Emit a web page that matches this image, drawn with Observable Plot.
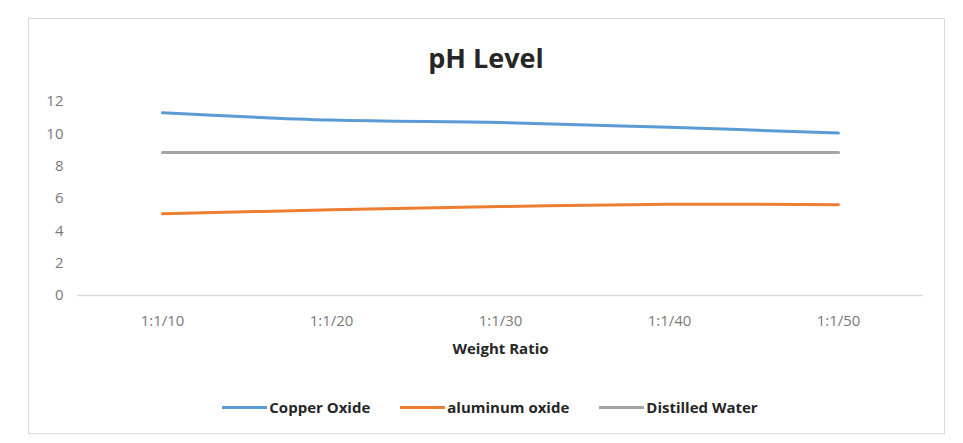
<!DOCTYPE html>
<html>
<head>
<meta charset="utf-8">
<script src="https://cdn.jsdelivr.net/npm/d3@7"></script>
<script src="https://cdn.jsdelivr.net/npm/@observablehq/plot@0.6"></script>
<style>
  html, body { margin: 0; padding: 0; background: #fff; }
  #wrap { position: relative; width: 963px; height: 443px; overflow: hidden; font-family: "Open Sans", sans-serif; }
  #frame { position: absolute; left: 28px; top: 18px; width: 917px; height: 416px; border: 1px solid #d9d9d9; box-sizing: border-box; }
  #title { position: absolute; left: 0; top: 40px; width: 972px; text-align: center; font-weight: bold; font-size: 27px; line-height: 36px; color: #262626; }
  #chart { position: absolute; left: 0; top: 80px; }
  #legend { position: absolute; left: 0; top: 396px; width: 980px; display: flex; justify-content: center; gap: 30px; font-weight: bold; font-size: 15px; line-height: 22px; color: #262626; }
  .item { display: flex; align-items: center; }
  .swatch { width: 45px; height: 3px; margin-right: 2px; }
</style>
</head>
<body>
<div id="wrap">
  <div id="frame"></div>
  <div id="title">pH Level</div>
  <div id="chart"></div>
  <div id="legend"></div>
</div>
<script>
const ratios = ["1:1/10", "1:1/20", "1:1/30", "1:1/40", "1:1/50"];
const copperOxide = [11.3, 10.85, 10.7, 10.4, 10.05];
const aluminumOxide = [5.05, 5.3, 5.5, 5.65, 5.62];
const distilledWater = [8.85, 8.85, 8.85, 8.85, 8.85];
const seriesNames = ["Copper Oxide", "aluminum oxide", "Distilled Water"];
const seriesColors = ["#5B9BD5", "#ED7D31", "#A5A5A5"];
const yTicks = [0, 2, 4, 6, 8, 10, 12];
const xTitle = "Weight Ratio";

const seriesValues = [copperOxide, aluminumOxide, distilledWater];
const rows = [];
seriesNames.forEach((name, i) => {
  ratios.forEach((r, j) => rows.push({series: name, ratio: r, value: seriesValues[i][j]}));
});

const chart = Plot.plot({
  width: 963,
  height: 300,
  marginTop: 21,
  marginBottom: 85,
  marginLeft: 77,
  marginRight: 40,
  style: {fontFamily: "Open Sans", fontSize: "15px", color: "#7a7a7a", background: "transparent", overflow: "visible"},
  x: {type: "point", domain: ratios, padding: 0.5, label: null, tickSize: 0, tickPadding: 20},
  y: {domain: [0, 12], ticks: yTicks, tickSize: 0, tickPadding: 14, label: null},
  color: {domain: seriesNames, range: seriesColors},
  marks: [
    Plot.ruleY([0], {stroke: "#dcdcdc", strokeWidth: 1.5}),
    Plot.lineY(rows, {x: "ratio", y: "value", z: "series", stroke: "series", strokeWidth: 3, curve: "catmull-rom"}),
    Plot.text([xTitle], {frameAnchor: "bottom", dy: 58, fontWeight: "bold", fontSize: 15, fill: "#262626"})
  ]
});
document.getElementById("chart").appendChild(chart);

const legend = document.getElementById("legend");
seriesNames.forEach((name, i) => {
  const item = document.createElement("div");
  item.className = "item";
  const sw = document.createElement("span");
  sw.className = "swatch";
  sw.style.background = seriesColors[i];
  const label = document.createElement("span");
  label.textContent = name;
  item.appendChild(sw);
  item.appendChild(label);
  legend.appendChild(item);
});
</script>
</body>
</html>
